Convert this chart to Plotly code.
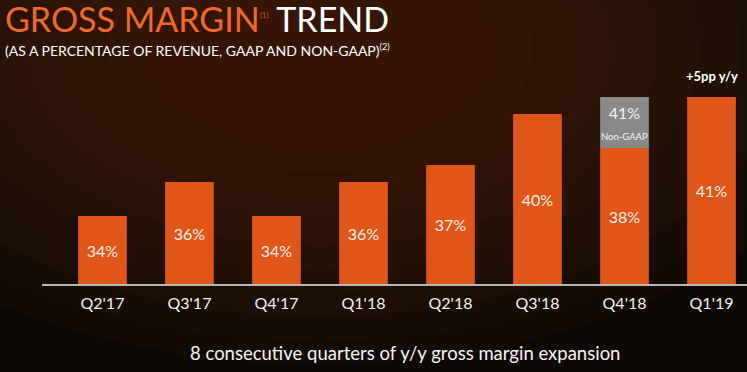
import plotly.graph_objects as go

quarters = ["Q2'17", "Q3'17", "Q4'17", "Q1'18", "Q2'18", "Q3'18", "Q4'18", "Q1'19"]
gaap = [34, 36, 34, 36, 37, 40, 38, 41]
non_gaap = [None, None, None, None, None, None, 41, None]
axis_base = 30

FONT = "Lato"
ORANGE = "#e05518"
GRAY = "#898989"

fig = go.Figure()

fig.add_trace(go.Bar(
    x=quarters,
    y=[v - axis_base for v in gaap],
    base=axis_base,
    width=0.56,
    marker=dict(color=ORANGE, line=dict(width=0)),
    text=[f"{v}%" for v in gaap],
    textposition="inside",
    insidetextanchor="middle",
    textangle=0,
    constraintext="none",
    textfont=dict(family=FONT, size=16, color="#fbeee6"),
    hovertemplate="%{x}: %{text}<extra>GAAP</extra>",
))

ng_q = [q for q, n in zip(quarters, non_gaap) if n is not None]
ng_base = [g for g, n in zip(gaap, non_gaap) if n is not None]
ng_vals = [n for n in non_gaap if n is not None]
fig.add_trace(go.Bar(
    x=ng_q,
    y=[n - g for n, g in zip(ng_vals, ng_base)],
    base=ng_base,
    width=0.56,
    marker=dict(color=GRAY, line=dict(width=0)),
    text=[f"{n}%<br><span style='font-size:9.5px'>Non-GAAP</span>" for n in ng_vals],
    textposition="inside",
    insidetextanchor="middle",
    textangle=0,
    constraintext="none",
    textfont=dict(family=FONT, size=16, color="#f2f2f2"),
    hoverinfo="skip",
))

W, H = 747, 372
L, R, T, B = 42, 0, 80, 88
pw, ph = W - L - R, H - T - B

def px(x):
    return (x - L) / pw

def py(y):
    return (H - B - y) / ph

annotations = [
    dict(x=px(3), y=py(19), xref="paper", yref="paper", xanchor="left", yanchor="middle",
         text="<span style='color:#ee6a2c'>GROSS MARGIN</span><sup><span style='font-size:8px;color:#c9582a'>(1)</span></sup> <span style='color:#ffffff'>TREND</span>",
         showarrow=False, font=dict(family=FONT, size=34)),
    dict(x=px(3), y=py(50), xref="paper", yref="paper", xanchor="left", yanchor="middle",
         text="(AS A PERCENTAGE OF REVENUE, GAAP AND NON-GAAP)<sup><span style='font-size:9px'>(2)</span></sup>",
         showarrow=False, font=dict(family=FONT, size=14, color="#ffffff")),
    dict(x=px(712), y=py(76), xref="paper", yref="paper", xanchor="center", yanchor="middle",
         text="<b>+5pp y/y</b>", showarrow=False, font=dict(family=FONT, size=13, color="#ffffff")),
    dict(x=px(405), y=py(353), xref="paper", yref="paper", xanchor="center", yanchor="middle",
         text="8 consecutive quarters of y/y gross margin expansion", showarrow=False,
         font=dict(family=FONT, size=18.5, color="#f4f4f4")),
]

shapes = []
for i in range(10):
    r = 420 - i * 32
    cx, cy = 320, 50
    shapes.append(dict(type="circle", xref="paper", yref="paper",
                       x0=px(cx - r * 1.3), x1=px(cx + r * 1.3), y0=py(cy + r * 0.75), y1=py(cy - r * 0.75),
                       fillcolor="rgba(95,40,20,0.075)", line=dict(width=0), layer="below"))

fig.update_layout(
    width=W, height=H,
    margin=dict(l=L, r=R, t=T, b=B, pad=0),
    paper_bgcolor="#0e0906",
    plot_bgcolor="rgba(0,0,0,0)",
    barmode="overlay",
    showlegend=False,
    annotations=annotations,
    shapes=shapes,
    xaxis=dict(
        type="category",
        range=[-0.695, 7.408],
        showgrid=False, zeroline=False,
        showline=True, linecolor="#b5b5b5", linewidth=1.5,
        ticks="", ticklabelstandoff=4,
        tickfont=dict(family=FONT, size=16, color="#f2f2f2"),
        fixedrange=True,
    ),
    yaxis=dict(
        range=[axis_base, 42],
        visible=False,
        showgrid=False, zeroline=False,
        fixedrange=True,
    ),
)

fig.write_html("out.html", config={"displayModeBar": False},
               post_script="document.body.style.margin='0';document.body.style.overflow='hidden';")
